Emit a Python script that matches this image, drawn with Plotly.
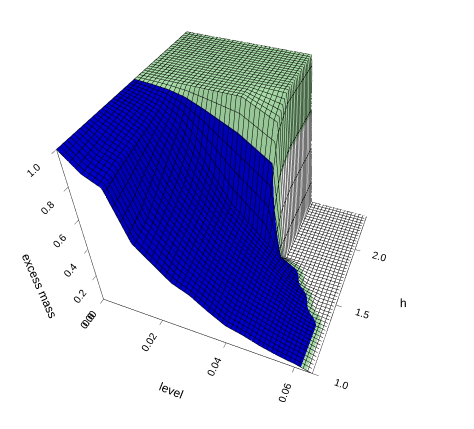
import plotly.graph_objects as go

# grid
level = [0.0, 0.005, 0.01, 0.015, 0.02, 0.025, 0.03, 0.035, 0.04, 0.045, 0.05, 0.055, 0.06, 0.065]
h = [1.0, 1.15, 1.3, 1.45, 1.6, 1.75, 1.9, 2.05, 2.2, 2.35]

# excess mass, rows = h, cols = level
mass = [
    [1.0, 0.90, 0.85, 0.55, 0.45, 0.35, 0.30, 0.22, 0.15, 0.12, 0.08, 0.05, 0.03, 0.0],
    [1.0, 0.92, 0.88, 0.60, 0.50, 0.40, 0.32, 0.25, 0.18, 0.14, 0.10, 0.06, 0.03, 0.0],
    [1.0, 0.95, 0.90, 0.70, 0.55, 0.45, 0.35, 0.28, 0.22, 0.16, 0.12, 0.06, 0.02, 0.0],
    [1.0, 0.97, 0.92, 0.80, 0.62, 0.50, 0.40, 0.32, 0.25, 0.18, 0.10, 0.05, 0.0, 0.0],
    [1.0, 0.98, 0.95, 0.88, 0.75, 0.60, 0.45, 0.35, 0.25, 0.15, 0.05, 0.0, 0.0, 0.0],
    [1.0, 1.0, 1.0, 1.0, 1.0, 1.0, 1.0, 0.95, 0.9, 0.0, 0.0, 0.0, 0.0, 0.0],
    [1.0, 1.0, 1.0, 1.0, 1.0, 1.0, 1.0, 1.0, 1.0, 0.0, 0.0, 0.0, 0.0, 0.0],
    [1.0, 1.0, 1.0, 1.0, 1.0, 1.0, 1.0, 1.0, 1.0, 0.0, 0.0, 0.0, 0.0, 0.0],
    [1.0, 1.0, 1.0, 1.0, 1.0, 1.0, 1.0, 1.0, 1.0, 0.0, 0.0, 0.0, 0.0, 0.0],
    [1.0, 1.0, 1.0, 1.0, 1.0, 1.0, 1.0, 1.0, 1.0, 0.0, 0.0, 0.0, 0.0, 0.0],
]

# 0 = white floor, 1 = green, 2 = blue
region = [
    [2, 2, 2, 2, 2, 2, 2, 2, 2, 2, 2, 2, 2, 0],
    [2, 2, 2, 2, 2, 2, 2, 2, 2, 2, 2, 2, 2, 0],
    [2, 2, 2, 2, 2, 2, 2, 2, 2, 2, 2, 2, 2, 0],
    [2, 2, 2, 2, 2, 2, 2, 2, 2, 2, 2, 2, 0, 0],
    [2, 2, 2, 2, 2, 2, 2, 2, 2, 2, 2, 0, 0, 0],
    [1, 1, 1, 1, 1, 1, 1, 1, 1, 0, 0, 0, 0, 0],
    [1, 1, 1, 1, 1, 1, 1, 1, 1, 0, 0, 0, 0, 0],
    [1, 1, 1, 1, 1, 1, 1, 1, 1, 0, 0, 0, 0, 0],
    [1, 1, 1, 1, 1, 1, 1, 1, 1, 0, 0, 0, 0, 0],
    [1, 1, 1, 1, 1, 1, 1, 1, 1, 0, 0, 0, 0, 0],
]

scale = [
    [0.0, "#ffffff"], [0.33, "#ffffff"],
    [0.33, "#a8dca8"], [0.66, "#a8dca8"],
    [0.66, "#0000c8"], [1.0, "#0000c8"],
]

fig = go.Figure(go.Surface(
    x=level, y=h, z=mass,
    surfacecolor=region, cmin=0, cmax=2, colorscale=scale, showscale=False,
    lighting=dict(ambient=0.9, diffuse=0.2, specular=0.0),
    contours=dict(
        x=dict(show=True, color="black", width=1, highlight=False, start=0, end=0.065, size=0.0013),
        y=dict(show=True, color="black", width=1, highlight=False, start=1.0, end=2.35, size=0.027),
    ),
))

ax = dict(showbackground=False, showgrid=False, showline=True, linecolor="black",
          ticks="outside", tickfont=dict(size=11, color="black", family="Liberation Sans"),
          zeroline=False)
tf = dict(size=12, color="black")

fig.update_layout(
    width=474, height=429,
    margin=dict(l=0, r=0, t=0, b=0),
    paper_bgcolor="white",
    font=dict(family="Liberation Sans"),
    scene=dict(
        xaxis=dict(ax, title=dict(text="level", font=tf), range=[0, 0.065], tickvals=[0, 0.02, 0.04, 0.06],
                   ticktext=["0.00", "0.02", "0.04", "0.06"]),
        yaxis=dict(ax, title=dict(text="h", font=tf), range=[1.0, 2.35], tickvals=[1.0, 1.5, 2.0],
                   ticktext=["1.0", "1.5", "2.0"]),
        zaxis=dict(ax, title=dict(text="excess mass", font=tf), range=[0, 1],
                   tickvals=[0, 0.2, 0.4, 0.6, 0.8, 1.0],
                   ticktext=["0.0", "0.2", "0.4", "0.6", "0.8", "1.0"]),
        camera=dict(eye=dict(x=0.65, y=-1.6, z=1.5), center=dict(x=0, y=0, z=-0.2)),
        aspectmode="manual", aspectratio=dict(x=1, y=1, z=0.85),
    ),
)

fig.write_html("out.html")
